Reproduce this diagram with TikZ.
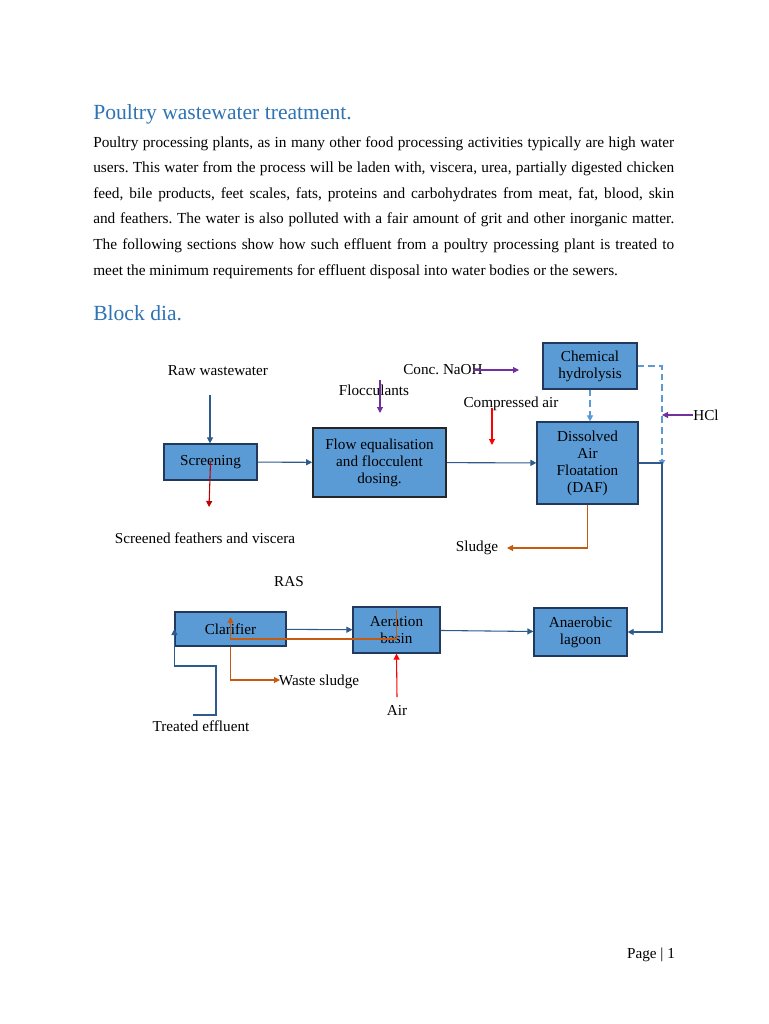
\documentclass[tikz,border=0pt]{standalone}
\usepackage{fontspec}
\setmainfont{Liberation Serif}
\usetikzlibrary{arrows.meta}
\definecolor{boxfill}{HTML}{5B9BD5}
\definecolor{boxline}{HTML}{22395E}
\definecolor{flowblue}{HTML}{2E5A8C}
\definecolor{headblue}{HTML}{2E74B5}
\definecolor{chempurple}{HTML}{7030A0}
\definecolor{sludgeorange}{HTML}{C55A11}
\definecolor{dred}{HTML}{C00000}
\newcommand\lblfont{\fontsize{11.4}{12.75}\selectfont}
\tikzstyle{flowhead}=[>/.tip={Triangle[length=4.5pt,width=4.5pt]}]
\tikzstyle{blk}=[draw=boxline,fill=boxfill,line width=.9pt,align=center,inner sep=1pt,font=\lblfont]
\tikzstyle{boxsize}=[minimum width=#1*.75pt]
\tikzstyle{boxht}=[minimum height=#1*.75pt]
\tikzstyle{lbl}=[inner sep=0pt,font=\lblfont]
\tikzstyle{bl} =[line width=.8pt,flowhead,->,flowblue]
\tikzstyle{rd} =[line width=.8pt,flowhead,->,red]
\tikzstyle{drd}=[line width=.8pt,flowhead,->,dred]
\tikzstyle{pu} =[line width=.8pt,flowhead,->,chempurple]
\tikzstyle{orln}=[line width=.8pt,flowhead,->,sludgeorange]
\tikzstyle{dsh}=[line width=.8pt,flowhead,->,boxfill,dash pattern=on 5pt off 3pt]
\begin{document}
\frenchspacing
\begin{tikzpicture}[x=.75pt,y=-.75pt]
	\fill[white] (0,0) rectangle (768,1024);
	\useasboundingbox (0,0) rectangle (768,1024);
	\node[anchor=base west,inner sep=0pt,headblue,font=\fontsize{16.2}{18}\selectfont] (ttl) at (93,119) {Poultry wastewater treatment.};
	\node[anchor=north west,inner sep=0pt,text width=435.75pt,align=justify,font=\fontsize{11.5}{19.2}\selectfont] (par) at (93,136) {%
	  Poultry processing plants, as in many other food processing activities typically are high water\linebreak
	  users. This water from the process will be laden with, viscera, urea, partially digested chicken\linebreak
	  feed, bile products, feet scales, fats, proteins and carbohydrates from meat, fat, blood, skin\linebreak
	  and feathers. The water is also polluted with a fair amount of grit and other inorganic matter.\linebreak
	  The following sections show how such effluent from a poultry processing plant is treated to\linebreak
	  meet the minimum requirements for effluent disposal into water bodies or the sewers.\par};
	\node[anchor=base west,inner sep=0pt,headblue,font=\fontsize{16.2}{18}\selectfont] (blkdia) at (93,320) {Block dia.};

	\node[blk,boxsize=93,boxht=36] (scr) at (210.5,462) {Screening};
	\node[blk,boxsize=133,boxht=69,draw=black!85,line width=1.3pt] (feq) at (379.5,462.5) {Flow equalisation\\and flocculent\\dosing.};
	\node[blk,boxsize=94,boxht=46] (chy) at (590,366) {Chemical\\hydrolysis};
	\node[blk,boxsize=101,boxht=82] (daf) at (587.5,463) {Dissolved\\Air\\Floatation\\(DAF)};
	\node[blk,boxsize=111,boxht=34] (clar) at (230.5,629) {Clarifier};
	\node[blk,boxsize=87,boxht=46] (aer) at (396.5,630) {Aeration\\basin};
	\node[blk,boxsize=93,boxht=48] (ana) at (580.5,632) {Anaerobic\\lagoon};

	\node[lbl] (raw) at (218,371) {Raw wastewater};
	\node[lbl] (floc) at (374,390) {Flocculants};
	\node[lbl] (naoh) at (443,370) {Conc. NaOH};
	\node[lbl] (cair) at (511,404) {Compressed air};
	\node[lbl] (hcl) at (706,415) {HCl};
	\node[lbl] (scrf) at (205,538) {Screened feathers and viscera};
	\node[lbl] (sldg) at (477,548) {Sludge};
	\node[lbl] (ras) at (289,582) {RAS};
	\node[lbl] (wsl) at (319,682) {Waste sludge};
	\node[lbl] (air) at (397,710) {Air};
	\node[lbl] (teff) at (201,726) {Treated effluent};
	\node[lbl] (pg) at (651,955) {Page | 1};

	\coordinate (rawin) at (210,395);
	\coordinate (scrout) at (209,507);
	\coordinate (flin) at (380,380);
	\coordinate (flend) at (380,413);
	\coordinate (naohin) at (473,370);
	\coordinate (naohend) at (519,370);
	\coordinate (cairin) at (492,408);
	\coordinate (cairend) at (492,445);
	\coordinate (jn) at (662,466);
	\coordinate (hclin) at (693,415);
	\coordinate (sldgend) at (507,548);
	\coordinate (wslend) at (280,680);
	\coordinate (airin) at (397,697);
	\coordinate (teout) at (193,715);

	\draw[bl] (rawin) -- (rawin |- scr.north);
	\draw[drd] (scr.center) -- (scrout);
	\draw[bl] (scr) -- (feq);
	\draw[pu] (flin) -- (flend);
	\draw[pu] (naohin) -- (naohend);
	\draw[rd] (cairin) -- (cairend);
	\draw[bl] (feq) -- (daf);
	\draw[dsh] (chy.south) -- (chy.south |- daf.north);
	\draw[dsh] (chy.east) -| (jn);
	\draw[pu] (hclin) -- (hclin -| jn);
	\draw[bl] (daf.east) -- (daf.east -| jn) |- (ana.east);
	\draw[orln] (daf.south) |- (sldgend);
	\draw[bl] (clar) -- (aer);
	\draw[bl] (aer) -- (ana);
	\draw[orln] ([yshift=-3pt]aer.north) |- ([yshift=-7.5pt]clar.center) -- ([yshift=9pt]clar.center);
	\draw[orln] (clar.south) |- (wslend);
	\draw[rd] (airin) -- (aer.south);
	\draw[bl] (teout) -- ++(23,0) -- ++(0,-49) -| (clar.west);
\end{tikzpicture}
\end{document}
